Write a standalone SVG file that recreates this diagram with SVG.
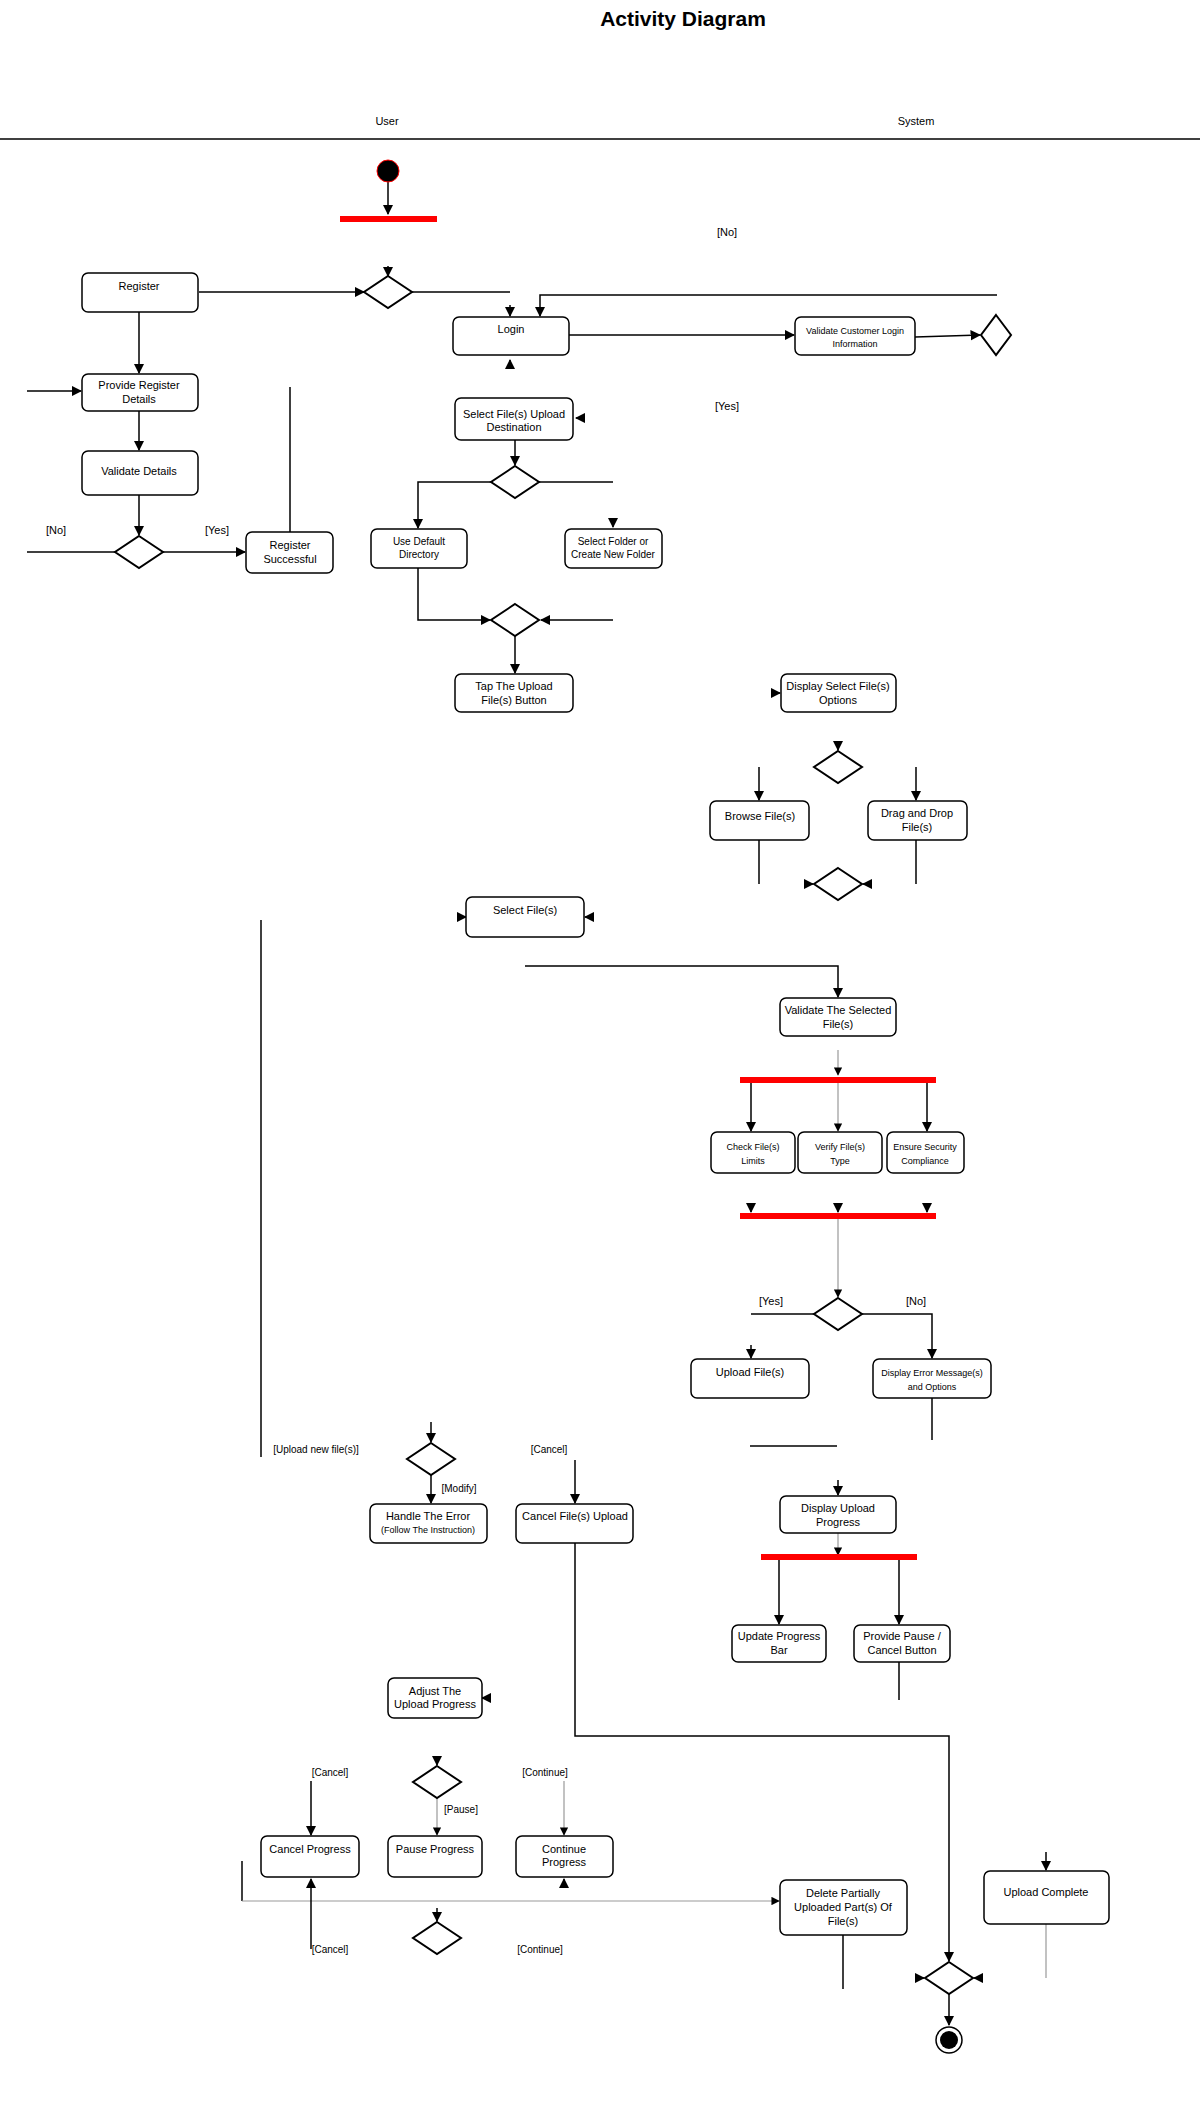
<svg xmlns="http://www.w3.org/2000/svg" width="1200" height="2101" viewBox="0 0 1200 2101">
<style>
text{font-family:"Liberation Sans",Arial,sans-serif;font-size:11px;fill:#000;text-anchor:middle}
.b rect{fill:#fff;stroke:#000;stroke-width:1.5}
.d{fill:#fff;stroke:#000;stroke-width:2}
.c{fill:none;stroke:#000;stroke-width:1.5}
.g{fill:none;stroke:#999;stroke-width:1.2}
.bar{fill:#f00}
</style>
<defs>
<marker id="a" viewBox="0 0 10 10" refX="9" refY="5" markerWidth="7" markerHeight="7" orient="auto"><path d="M0,0L10,5L0,10z" fill="#000"/></marker>
</defs>
<rect width="1200" height="2101" fill="#fff"/>
<text x="683" y="26" style="font-size:21px;font-weight:bold">Activity Diagram</text>
<text x="387" y="125">User</text>
<text x="916" y="125">System</text>
<line x1="0" y1="139" x2="1200" y2="139" stroke="#000" stroke-width="1.5"/>

<g id="connectors">
<path class="c" d="M388,182V214" marker-end="url(#a)"/>
<path class="c" d="M199,292H364" marker-end="url(#a)"/>
<path class="c" d="M412,292H510"/>
<path class="c" d="M388,266V276" marker-end="url(#a)"/>
<path class="c" d="M510,305V316" marker-end="url(#a)"/>
<path class="c" d="M997,295H540V316" marker-end="url(#a)"/>
<path class="c" d="M569,335H794" marker-end="url(#a)"/>
<path class="c" d="M915,337L980,335" marker-end="url(#a)"/>
<path class="c" d="M510,368V360" marker-end="url(#a)"/>
<path class="c" d="M583,418H576" marker-end="url(#a)"/>
<path class="c" d="M515,440V465" marker-end="url(#a)"/>
<path class="c" d="M491,482H418V528" marker-end="url(#a)"/>
<path class="c" d="M539,482H613"/>
<path class="c" d="M613,518V527" marker-end="url(#a)"/>
<path class="c" d="M418,568V620H490" marker-end="url(#a)"/>
<path class="c" d="M613,620H541" marker-end="url(#a)"/>
<path class="c" d="M515,636V673" marker-end="url(#a)"/>
<path class="c" d="M139,312V373" marker-end="url(#a)"/>
<path class="c" d="M27,391H81" marker-end="url(#a)"/>
<path class="c" d="M139,411V450" marker-end="url(#a)"/>
<path class="c" d="M139,495V535" marker-end="url(#a)"/>
<path class="c" d="M115,552H27"/>
<path class="c" d="M163,552H245" marker-end="url(#a)"/>
<path class="c" d="M290,532V387"/>
<path class="c" d="M772,693H780" marker-end="url(#a)"/>
<path class="c" d="M838,743V750" marker-end="url(#a)"/>
<path class="c" d="M759,767V800" marker-end="url(#a)"/>
<path class="c" d="M916,767V800" marker-end="url(#a)"/>
<path class="c" d="M759,840V884"/>
<path class="c" d="M916,840V884"/>
<path class="c" d="M806,884H813" marker-end="url(#a)"/>
<path class="c" d="M870,884H863" marker-end="url(#a)"/>
<path class="c" d="M458,917H466" marker-end="url(#a)"/>
<path class="c" d="M592,917H585" marker-end="url(#a)"/>
<path class="c" d="M261,920V1457"/>
<path class="c" d="M525,966H838V997" marker-end="url(#a)"/>
<path class="g" d="M838,1050V1075" marker-end="url(#a)"/>
<path class="c" d="M751,1083V1131" marker-end="url(#a)"/>
<path class="g" d="M838,1083V1131" marker-end="url(#a)"/>
<path class="c" d="M927,1083V1131" marker-end="url(#a)"/>
<path class="c" d="M751,1205V1212" marker-end="url(#a)"/>
<path class="c" d="M838,1205V1212" marker-end="url(#a)"/>
<path class="c" d="M927,1205V1212" marker-end="url(#a)"/>
<path class="g" d="M838,1219V1297" marker-end="url(#a)"/>
<path class="c" d="M814,1314H751"/>
<path class="c" d="M751,1345V1358" marker-end="url(#a)"/>
<path class="c" d="M862,1314H932V1358" marker-end="url(#a)"/>
<path class="c" d="M932,1398V1440"/>
<path class="c" d="M750,1446H837"/>
<path class="c" d="M431,1422V1442" marker-end="url(#a)"/>
<path class="c" d="M431,1475V1503" marker-end="url(#a)"/>
<path class="c" d="M575,1460V1503" marker-end="url(#a)"/>
<path class="c" d="M575,1543V1736H949V1961" marker-end="url(#a)"/>
<path class="c" d="M838,1480V1495" marker-end="url(#a)"/>
<path class="g" d="M838,1533V1555" marker-end="url(#a)"/>
<path class="c" d="M779,1560V1624" marker-end="url(#a)"/>
<path class="c" d="M899,1560V1624" marker-end="url(#a)"/>
<path class="c" d="M899,1662V1700"/>
<path class="c" d="M490,1698H482" marker-end="url(#a)"/>
<path class="c" d="M437,1760V1765" marker-end="url(#a)"/>
<path class="c" d="M311,1781V1835" marker-end="url(#a)"/>
<path class="g" d="M437,1798V1835" marker-end="url(#a)"/>
<path class="g" d="M564,1781V1835" marker-end="url(#a)"/>
<path class="c" d="M564,1888V1879" marker-end="url(#a)"/>
<path class="c" d="M242,1861V1901"/>
<path class="g" d="M242,1901H779" marker-end="url(#a)"/>
<path class="c" d="M311,1949V1879" marker-end="url(#a)"/>
<path class="c" d="M437,1908V1921" marker-end="url(#a)"/>
<path class="c" d="M843,1935V1989"/>
<path class="c" d="M1046,1852V1870" marker-end="url(#a)"/>
<path class="g" d="M1046,1924V1978"/>
<path class="c" d="M916,1978H924" marker-end="url(#a)"/>
<path class="c" d="M982,1978H974" marker-end="url(#a)"/>
<path class="c" d="M949,1994V2025" marker-end="url(#a)"/>
</g>

<g id="start"><circle cx="388" cy="171" r="11" fill="#000" stroke="#f00" stroke-width="1"/></g>
<g id="fork1"><rect class="bar" x="340" y="216" width="97" height="6"/></g>
<g id="dec1"><path class="d" d="M388,276L412,292L388,308L364,292Z"/></g>
<text x="727" y="236">[No]</text>
<text x="727" y="410">[Yes]</text>

<g id="register" class="b"><rect x="82" y="273" width="116" height="39" rx="6"/><text x="139" y="290">Register</text></g>
<g id="provide" class="b"><rect x="82" y="374" width="116" height="37" rx="6"/><text x="139" y="389">Provide Register</text><text x="139" y="403">Details</text></g>
<g id="validateDetails" class="b"><rect x="82" y="451" width="116" height="44" rx="6"/><text x="139" y="475">Validate Details</text></g>
<g id="dec2"><path class="d" d="M139,536L163,552L139,568L115,552Z"/></g>
<text x="56" y="534">[No]</text>
<text x="217" y="534">[Yes]</text>
<g id="regSuccess" class="b"><rect x="246" y="532" width="87" height="41" rx="6"/><text x="290" y="549">Register</text><text x="290" y="563">Successful</text></g>

<g id="login" class="b"><rect x="453" y="317" width="116" height="38" rx="6"/><text x="511" y="333">Login</text></g>
<g id="validateLogin" class="b"><rect x="795" y="317" width="120" height="38" rx="6"/><text x="855" y="334" style="font-size:9px">Validate Customer Login</text><text x="855" y="347" style="font-size:9px">Information</text></g>
<g id="dec3"><path class="d" d="M996,315L1011,335L996,355L981,335Z"/></g>
<g id="selectDest" class="b"><rect x="455" y="398" width="118" height="42" rx="6"/><text x="514" y="418">Select File(s) Upload</text><text x="514" y="431">Destination</text></g>
<g id="dec4"><path class="d" d="M515,466L539,482L515,498L491,482Z"/></g>
<g id="useDefault" class="b"><rect x="371" y="529" width="96" height="39" rx="6"/><text x="419" y="545" style="font-size:10px">Use Default</text><text x="419" y="558" style="font-size:10px">Directory</text></g>
<g id="selectFolder" class="b"><rect x="565" y="529" width="97" height="39" rx="6"/><text x="613" y="545" style="font-size:10px">Select Folder or</text><text x="613" y="558" style="font-size:10px">Create New Folder</text></g>
<g id="dec5"><path class="d" d="M515,604L539,620L515,636L491,620Z"/></g>
<g id="tapUpload" class="b"><rect x="455" y="674" width="118" height="38" rx="6"/><text x="514" y="690">Tap The Upload</text><text x="514" y="704">File(s) Button</text></g>

<g id="displaySelect" class="b"><rect x="781" y="674" width="115" height="38" rx="6"/><text x="838" y="690">Display Select File(s)</text><text x="838" y="704">Options</text></g>
<g id="dec6"><path class="d" d="M838,751L862,767L838,783L814,767Z"/></g>
<g id="browse" class="b"><rect x="710" y="801" width="99" height="39" rx="6"/><text x="760" y="820">Browse File(s)</text></g>
<g id="drag" class="b"><rect x="868" y="801" width="99" height="39" rx="6"/><text x="917" y="817">Drag and Drop</text><text x="917" y="831">File(s)</text></g>
<g id="dec7"><path class="d" d="M838,868L862,884L838,900L814,884Z"/></g>
<g id="selectFiles" class="b"><rect x="466" y="897" width="118" height="40" rx="6"/><text x="525" y="914">Select File(s)</text></g>

<g id="validateSelected" class="b"><rect x="780" y="998" width="116" height="38" rx="6"/><text x="838" y="1014">Validate The Selected</text><text x="838" y="1028">File(s)</text></g>
<g id="fork2"><rect class="bar" x="740" y="1077" width="196" height="6"/></g>
<g id="checkLimits" class="b"><rect x="711" y="1132" width="84" height="41" rx="6"/><text x="753" y="1150" style="font-size:9px">Check File(s)</text><text x="753" y="1164" style="font-size:9px">Limits</text></g>
<g id="verifyType" class="b"><rect x="798" y="1132" width="84" height="41" rx="6"/><text x="840" y="1150" style="font-size:9px">Verify File(s)</text><text x="840" y="1164" style="font-size:9px">Type</text></g>
<g id="ensureSecurity" class="b"><rect x="887" y="1132" width="77" height="41" rx="6"/><text x="925" y="1150" style="font-size:9px">Ensure Security</text><text x="925" y="1164" style="font-size:9px">Compliance</text></g>
<g id="join1"><rect class="bar" x="740" y="1213" width="196" height="6"/></g>
<g id="dec8"><path class="d" d="M838,1298L862,1314L838,1330L814,1314Z"/></g>
<text x="771" y="1305">[Yes]</text>
<text x="916" y="1305">[No]</text>
<g id="uploadFiles" class="b"><rect x="691" y="1359" width="118" height="39" rx="6"/><text x="750" y="1376">Upload File(s)</text></g>
<g id="displayError" class="b"><rect x="873" y="1359" width="118" height="39" rx="6"/><text x="932" y="1376" style="font-size:9px">Display Error Message(s)</text><text x="932" y="1390" style="font-size:9px">and Options</text></g>

<text x="316" y="1453" style="font-size:10px">[Upload new file(s)]</text>
<g id="dec9"><path class="d" d="M431,1443L455,1459L431,1475L407,1459Z"/></g>
<text x="459" y="1492" style="font-size:10px">[Modify]</text>
<text x="549" y="1453" style="font-size:10px">[Cancel]</text>
<g id="handleError" class="b"><rect x="370" y="1504" width="117" height="39" rx="6"/><text x="428" y="1520">Handle The Error</text><text x="428" y="1533" style="font-size:9px">(Follow The Instruction)</text></g>
<g id="cancelUpload" class="b"><rect x="516" y="1504" width="117" height="39" rx="6"/><text x="575" y="1520">Cancel File(s) Upload</text></g>

<g id="displayProgress" class="b"><rect x="780" y="1496" width="116" height="37" rx="6"/><text x="838" y="1512">Display Upload</text><text x="838" y="1526">Progress</text></g>
<g id="fork3"><rect class="bar" x="761" y="1554" width="156" height="6"/></g>
<g id="updateBar" class="b"><rect x="732" y="1625" width="94" height="37" rx="6"/><text x="779" y="1640">Update Progress</text><text x="779" y="1654">Bar</text></g>
<g id="providePause" class="b"><rect x="854" y="1625" width="96" height="37" rx="6"/><text x="902" y="1640">Provide Pause /</text><text x="902" y="1654">Cancel Button</text></g>

<g id="adjust" class="b"><rect x="388" y="1678" width="94" height="40" rx="6"/><text x="435" y="1695">Adjust The</text><text x="435" y="1708">Upload Progress</text></g>
<g id="dec10"><path class="d" d="M437,1766L461,1782L437,1798L413,1782Z"/></g>
<text x="330" y="1776" style="font-size:10px">[Cancel]</text>
<text x="545" y="1776" style="font-size:10px">[Continue]</text>
<text x="461" y="1813" style="font-size:10px">[Pause]</text>
<g id="cancelProgress" class="b"><rect x="261" y="1836" width="98" height="41" rx="6"/><text x="310" y="1853">Cancel Progress</text></g>
<g id="pauseProgress" class="b"><rect x="388" y="1836" width="94" height="41" rx="6"/><text x="435" y="1853">Pause Progress</text></g>
<g id="continueProgress" class="b"><rect x="516" y="1836" width="97" height="41" rx="6"/><text x="564" y="1853">Continue</text><text x="564" y="1866">Progress</text></g>
<g id="dec11"><path class="d" d="M437,1922L461,1938L437,1954L413,1938Z"/></g>
<text x="330" y="1953" style="font-size:10px">[Cancel]</text>
<text x="540" y="1953" style="font-size:10px">[Continue]</text>
<g id="deletePartial" class="b"><rect x="780" y="1880" width="127" height="55" rx="6"/><text x="843" y="1897">Delete Partially</text><text x="843" y="1911">Uploaded Part(s) Of</text><text x="843" y="1925">File(s)</text></g>
<g id="uploadComplete" class="b"><rect x="984" y="1871" width="125" height="53" rx="6"/><text x="1046" y="1896">Upload Complete</text></g>
<g id="merge"><path class="d" d="M949,1962L973,1978L949,1994L925,1978Z"/></g>
<g id="end"><circle cx="949" cy="2040" r="13" fill="#fff" stroke="#000" stroke-width="1.5"/><circle cx="949" cy="2040" r="9" fill="#000"/></g>
</svg>
